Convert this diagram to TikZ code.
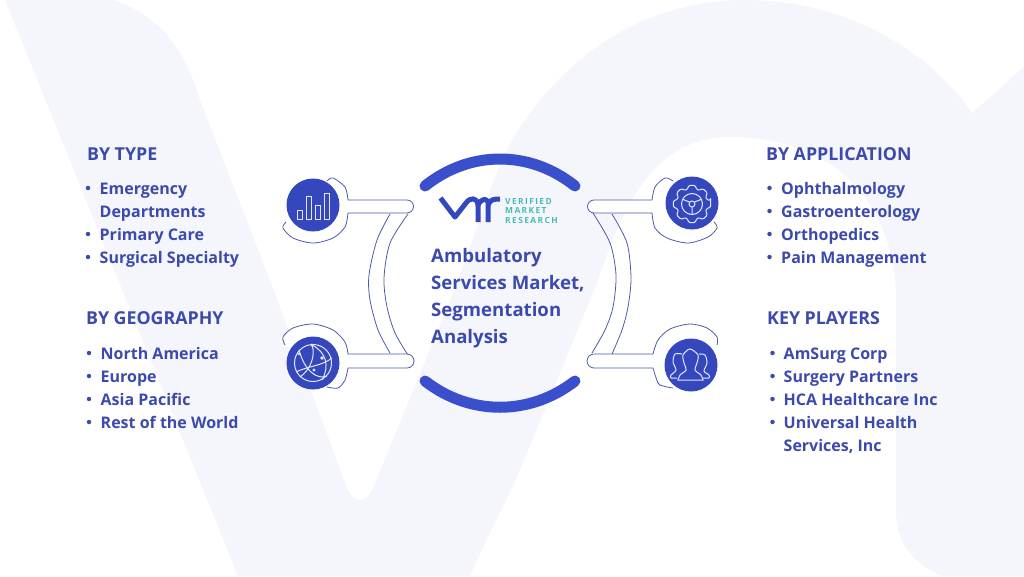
\documentclass[tikz,border=0pt]{standalone}
\usepackage{fontspec}
\setmainfont{Open Sans}
\definecolor{bgpale}{HTML}{F4F6FC}
\definecolor{textblue}{HTML}{3B4AAC}
\definecolor{discblue}{HTML}{3447BD}
\definecolor{arcblue}{HTML}{3A4FCB}
\definecolor{edgeblue}{HTML}{4D5AA6}
\definecolor{tealmark}{HTML}{45BDB2}
\definecolor{iconline}{HTML}{E3E7F8}
\tikzset{
  heading/.style={anchor=base west, inner sep=0pt, text=textblue, font=\fontsize{17.8}{20}\selectfont\bfseries},
  entry/.style={anchor=base west, inner sep=0pt, text=textblue, font=\fontsize{16}{18}\selectfont\bfseries},
  title/.style={anchor=base west, inner sep=0pt, text=textblue, font=\fontsize{18.6}{22}\selectfont\bfseries},
  dot/.style={circle, fill=textblue, inner sep=0pt, minimum size=4.5pt},
  disc/.style={circle, fill=discblue, inner sep=0pt, minimum size=53pt},
  rim/.style={draw=edgeblue, line width=0.8pt, fill=white},
  rail/.style={draw=edgeblue, line width=0.8pt},
  bow/.style={draw=arcblue, line width=11pt, line cap=round},
  icon/.style={draw=iconline, line width=1pt},
  logostroke/.style={draw=discblue, line width=5pt, line join=round},
  logotext/.style={anchor=base west, inner sep=0pt, text=tealmark, font=\fontsize{8.4}{9}\selectfont\bfseries}
}
\begin{document}
\begin{tikzpicture}[x=1pt,y=-1pt]
  \useasboundingbox (0,0) rectangle (1024,576);

  % Background letters
  \fill[bgpale] (5,0) -- (238,576) -- (470,576) .. controls (490,530) and (505,505) .. (520,470)
    -- (595,288) .. controls (615,235) and (640,137) .. (730,137)
    .. controls (840,137) and (896,210) .. (896,300) -- (896,510)
    .. controls (896,545) and (915,565) .. (942,576) -- (1024,576) -- (1024,67) -- (972,113)
    .. controls (925,45) and (840,0) .. (745,0) .. controls (640,0) and (560,60) .. (512,140)
    .. controls (490,180) and (470,255) .. (440,325) -- (373,488)
    .. controls (366,504) and (354,504) .. (347,488) -- (273,288) -- (200,100)
    .. controls (185,50) and (160,15) .. (113,0) -- cycle;

  % Rails between the arms
  \draw[rail] plot[smooth] coordinates {(390,214) (377,240) (369,275) (370,300) (378,330) (390,353)};
  \draw[rail] plot[smooth] coordinates {(408,214) (390,243) (384,278) (387,307) (395,333) (408,355)};
  \draw[rail] plot[smooth] coordinates {(593,213) (610,243) (616,275) (613,307) (605,330) (592,353)};
  \draw[rail] plot[smooth] coordinates {(612,214) (627,243) (631,278) (628,307) (622,330) (612,354)};

  % Arms
  \draw[rim] plot[smooth] coordinates {(327,181) (333,178) (345,187) (348,200)} -- (407,200)
    arc (-90:90:6.5) -- (348,213)
    -- plot[smooth] coordinates {(348,213) (345,227) (333,238) (313,243) (293,238) (283,228) (286,222)};
  \draw[rim] plot[smooth] coordinates {(285,345) (283,337) (293,328) (313,324) (333,330) (345,342) (348,354)} -- (407,354)
    arc (-90:90:7) -- (348,368)
    -- plot[smooth] coordinates {(348,368) (345,380) (338,388) (327,387)};
  \draw[rim] plot[smooth] coordinates {(673,181) (665,178) (655,187) (652,200)} -- (594,200)
    arc (270:90:6.5) -- (652,213)
    -- plot[smooth] coordinates {(652,213) (655,228) (667,238) (688,243) (708,237) (717,228) (714,222)};
  \draw[rim] plot[smooth] coordinates {(717,345) (717,337) (707,328) (690,324) (670,329) (658,340) (653,354)} -- (594,354)
    arc (270:90:7) -- (653,368)
    -- plot[smooth] coordinates {(653,368) (658,383) (663,386) (673,388)};

  % Discs
  \node[disc] (chart)  at (313,205) {};
  \node[disc] (globe)  at (313,363) {};
  \node[disc] (gear)   at (692,203) {};
  \node[disc] (people) at (691,365) {};

  % Bar icon
  \foreach \x/\y in {297/210, 306/196, 315/205, 324/193}
    \draw[icon] (\x,\y) rectangle ++(5,{219-\y});

  % Globe icon
  \draw[icon] (313,363) circle (18.5);
  \draw[icon] (299,350) .. controls (305,372) and (318,380) .. (327,376);
  \draw[icon] (312,345) .. controls (326,352) and (330,366) .. (322,380);
  \draw[icon] (296,372) .. controls (308,366) and (322,366) .. (332,358);
  \draw[icon] (300,377) .. controls (310,370) and (316,356) .. (312,345);
  \fill[iconline] (312,345) circle (1.6) (322,358) circle (1.8) (314,370) circle (1.6) (299,354) circle (1.4);

  % Gear icon
  \draw[icon, rounded corners=1.5pt, shift={(692,204)}] (-11:19)
    \foreach \a in {0,45,...,315} { -- ({\a-11}:19) -- ({\a+11}:19) -- ({\a+15}:15.5) -- ({\a+30}:15.5) } -- cycle;
  \draw[icon] (692,204) circle (10.5);
  \draw[icon] (692,204) circle (3);
  \draw[icon] (689.5,202) -- (683,199.5) (694.5,202) -- (701,199.5) (692,207) -- (692,214);

  % People icon
  \draw[icon] plot[smooth] coordinates {(678,380) (680,375) (686,370) (684,363) (683,355) (690,349) (698,355) (697,363) (695,370) (701,375) (703,380)} -- cycle;
  \draw[icon] plot[smooth] coordinates {(682,354) (675,354) (673,362) (676,370) (671,375) (671,378) (677,378)};
  \draw[icon] plot[smooth] coordinates {(699,354) (705,355) (707,363) (704,371) (709,375) (709,378) (703,378)};

  % Centre arcs
  \draw[bow] (425,186) .. controls (470,150) and (530,150) .. (575,186);
  \draw[bow] (425,381) .. controls (470,416) and (530,416) .. (575,381);

  % Logo
  \draw[logostroke] (440.5,198) -- (455,217) -- (466,203) .. controls (470,197) and (478,197) .. (478,206) -- (478,222);
  \draw[logostroke] (478,205) .. controls (482,197) and (490,198) .. (488,206) -- (488,222);
  \draw[logostroke] (488,205) .. controls (490,199) and (495,199) .. (500,199);
  \node[logotext] (verified) at (505,204) {V\,E\,R\,I\,F\,I\,E\,D};
  \node[logotext] (market) at (505,213) {M\,A\,R\,K\,E\,T};
  \node[logotext] (research) at (505,223) {R\,E\,S\,E\,A\,R\,C\,H};

  % Centre title
  \foreach \txt [count=\i] in {Ambulatory, {Services Market,}, Segmentation, Analysis}
    \node[title] (title\i) at (431,{235+27*\i}) {\txt};

  % Headings
  \node[heading] (type) at (87,160.5) {BY TYPE};
  \node[heading] (geography) at (86,324.5) {BY GEOGRAPHY};
  \node[heading] (application) at (766,160) {BY APPLICATION};
  \node[heading] (players) at (767,324.5) {KEY PLAYERS};

  % Lists
  \foreach \txt/\yy in {Emergency/194, Primary Care/240, Surgical Specialty/263} {
    \node[dot] (a\yy) at (88,{\yy-6}) {};
    \node[entry] at (99.5,\yy) {\txt};
  }
  \node[entry] (departments) at (99.5,217) {Departments};
  \foreach \txt/\yy in {North America/359, Europe/382, Asia Pacific/405, Rest of the World/428} {
    \node[dot] (b\yy) at (89,{\yy-6}) {};
    \node[entry] at (100.5,\yy) {\txt};
  }
  \foreach \txt/\yy in {Ophthalmology/194, Gastroenterology/217, Orthopedics/240, Pain Management/263} {
    \node[dot] (c\yy) at (769.5,{\yy-6}) {};
    \node[entry] at (781,\yy) {\txt};
  }
  \foreach \txt/\yy in {AmSurg Corp/359, Surgery Partners/382, HCA Healthcare Inc/405, Universal Health/428} {
    \node[dot] (d\yy) at (772.5,{\yy-6}) {};
    \node[entry] at (783.5,\yy) {\txt};
  }
  \node[entry] (services) at (783.5,451) {Services, Inc};
\end{tikzpicture}
\end{document}
